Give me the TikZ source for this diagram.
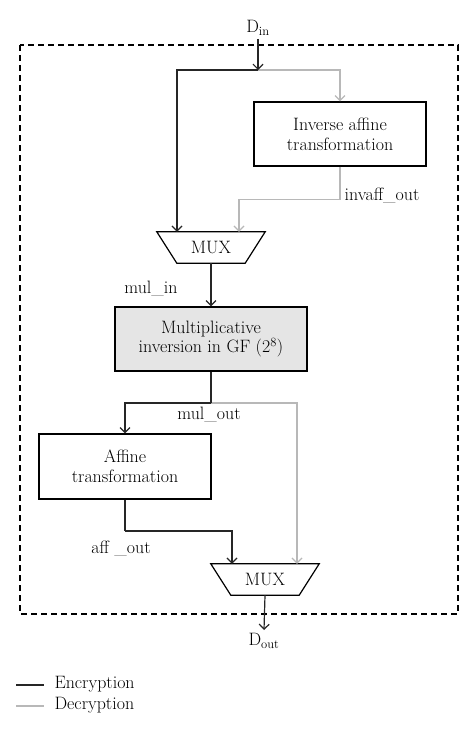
\documentclass[tikz,border=0pt]{standalone}
\usepackage{amsmath}
\usepackage{tikz}
\usetikzlibrary{arrows.meta, calc}

\tikzset{
  blk/.style={draw, line width=1.2bp, minimum width=172bp, minimum height=64bp, align=center, inner sep=0pt},
  muxbox/.style={minimum width=108bp, minimum height=31bp, inner sep=0pt},
  enc/.style={line width=1.2bp, draw=black!85},
  dec/.style={line width=1.2bp, draw=black!28},
  tip/.style={-{Straight Barb[length=5bp,width=10bp]}},
}

\begin{document}
\begin{tikzpicture}[x=1bp, y=-1bp, font=\fontsize{18}{20}\selectfont]
\useasboundingbox (0,0) rectangle (474,733);
\draw[line width=1.2bp, dash pattern=on 6bp off 4bp] (20,45) rectangle (458,614);

\node (din) at (258,28) {D\textsubscript{in}};
\coordinate (jin) at (258,70);
\node[blk] (inv) at (340,134) {Inverse affine\\transformation};
\node[muxbox] (mux1) at (211,247.5) {MUX};
\node[blk, fill=black!10, minimum width=192bp] (mul) at (211,339) {Multiplicative\\inversion in GF (2\textsuperscript{8})};
\coordinate (jmul) at (211,403);
\node[blk, minimum height=65bp] (aff) at (125,466.5) {Affine\\transformation};
\coordinate (jaff) at (125,531);
\node[muxbox] (mux2) at (265,579.5) {MUX};
\node (dout) at (264,641) {D\textsubscript{out}};

% signal names
\node (invlbl) at (382,195) {invaff\_out};
\node (mullbl) at (151,288) {mul\_in};
\node (mulout) at (209,414) {mul\_out};
\node (afflbl) at (121,548) {aff \_out};

\foreach \m in {mux1,mux2}
  \draw[line width=1.2bp] (\m.north west) -- (\m.north east) -- ([xshift=-20bp]\m.south east) -- ([xshift=20bp]\m.south west) -- cycle;

% decryption path
\draw[dec, tip] (jin) -| (inv.north);
\draw[dec, tip] (inv.south) -- ++(0,33) -| ($(mux1.north)+(28,0)$);
\draw[dec, tip] (jmul) -| ($(mux2.north)+(32,0)$);

% encryption path
\draw[enc, tip] (din) -- (jin);
\draw[enc, tip] (jin) -| ($(mux1.north)+(-34,0)$);
\draw[enc, tip] (mux1.south) -- (mul.north);
\draw[enc] (mul.south) -- (jmul);
\draw[enc, tip] (jmul) -| (aff.north);
\draw[enc] (aff.south) -- (jaff);
\draw[enc, tip] (jaff) -| ($(mux2.north)+(-33,0)$);
\draw[enc, tip] (mux2.south) -- (dout.north);

% legend
\draw[enc] (16,685) -- (44,685);
\node[anchor=west] (enclbl) at (51,684) {Encryption};
\draw[dec] (16,706) -- (44,706);
\node[anchor=west] (declbl) at (51,705) {Decryption};
\end{tikzpicture}
\end{document}
